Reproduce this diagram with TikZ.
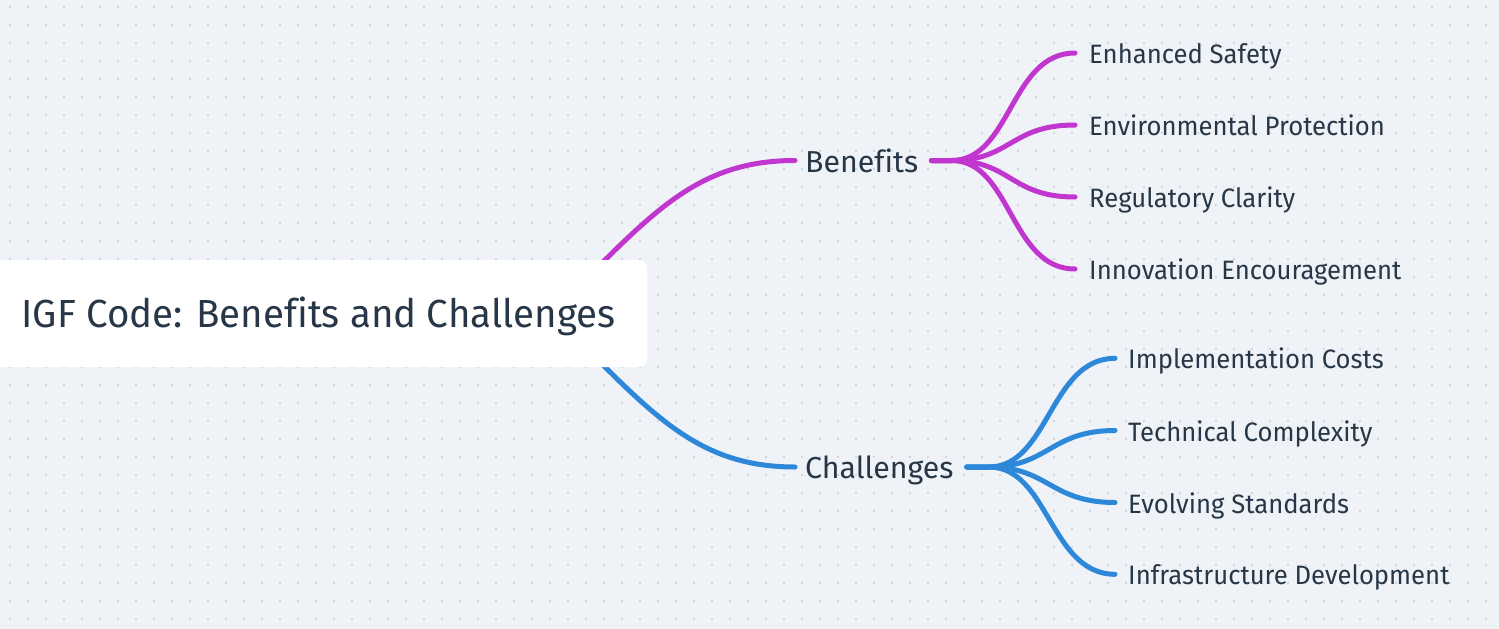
\documentclass[tikz,border=0pt]{standalone}
\usepackage{fontspec}
\setmainfont[Ligatures={NoCommon}]{Fira Sans}
\newfontfamily\leaffont[Ligatures={NoCommon},FakeStretch=0.965]{Fira Sans}
\newfontfamily\rootfont[Ligatures={NoCommon},FakeStretch=0.982]{Fira Sans}
\usetikzlibrary{calc}
\definecolor{bg}{HTML}{EFF3F7}
\definecolor{dotc}{HTML}{C5CED9}
\definecolor{txt}{HTML}{283747}
\definecolor{mag}{HTML}{C036CF}
\definecolor{blu}{HTML}{2E88DA}
\begin{document}
\begin{tikzpicture}[x=1pt,y=-1pt,
  link/.style={line width=5pt,line cap=round},
  leaf/.style={anchor=base west,inner sep=0pt,text=txt,font=\leaffont\fontsize{26.6}{32}\selectfont},
  mid/.style={anchor=base west,inner sep=0pt,text=txt,font=\fontsize{30.3}{36}\selectfont},
  rootbox/.style={fill=white,rounded corners=8pt,text=txt,font=\rootfont\fontsize{39.2}{48}\selectfont,
    minimum width=657pt,minimum height=107pt,text height=28pt,text depth=0pt,inner sep=0pt}]
\useasboundingbox (0,0) rectangle (1499,629);
\fill[bg] (0,0) rectangle (1499,629);
\foreach \i in {0,...,83} \foreach \j in {0,...,34} \fill[dotc] (10+18*\i,7+18*\j) circle (1.1pt);
% text nodes
\node[mid] (ben) at (805,172) {Benefits};
\node[mid] (cha) at (805,478) {Challenges};
\node[leaf] (b1) at (1089,63.5) {Enhanced Safety};
\node[leaf] (b2) at (1089,135.5) {Environmental Protection};
\node[leaf] (b3) at (1089,207.5) {Regulatory Clarity};
\node[leaf] (b4) at (1089,279.5) {Innovation Encouragement};
\node[leaf] (c1) at (1128,368.8) {Implementation Costs};
\node[leaf] (c2) at (1128,441) {Technical Complexity};
\node[leaf] (c3) at (1128,513) {Evolving Standards};
\node[leaf] (c4) at (1128,584.8) {Infrastructure Development};
% root centre (connectors drawn behind the root box)
\coordinate (rootc) at (318.5,313.5);
\draw[link,mag] ($(rootc)+(256.5,-23.5)$) .. controls +(80,-80) and +(-95,0) .. ($(ben.base west)+(-10,-11.5)$);
\draw[link,blu] ($(rootc)+(256.5,23.5)$) .. controls +(80,80) and +(-95,0) .. ($(cha.base west)+(-10,-11)$);
\node[rootbox] (root) at (rootc) {IGF Code: Benefits and Challenges};
% branches
\foreach \n in {b1,b2,b3,b4}
  \draw[link,mag] ($(ben.base east)+(13,-11.5)$) -- ++(20,0) .. controls +(60,0) and +(-65,0) .. ($(\n.base west)+(-14,-10.5)$);
\foreach \n in {c1,c2,c3,c4}
  \draw[link,blu] ($(cha.base east)+(13,-11)$) -- ++(22,0) .. controls +(60,0) and +(-65,0) .. ($(\n.base west)+(-13,-10.5)$);
\end{tikzpicture}
\end{document}
